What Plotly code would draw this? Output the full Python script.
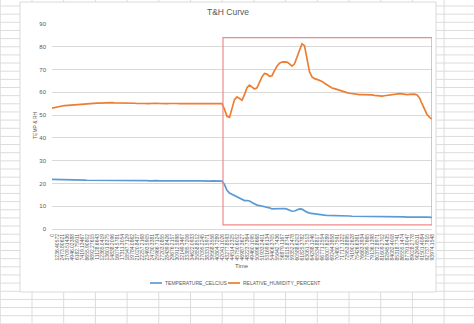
import plotly.graph_objects as go

# ---- data -------------------------------------------------------------
temperature_celcius = [
    21.8, 21.8, 21.7, 21.7, 21.7, 21.6, 21.6, 21.6, 21.6, 21.5,
    21.5, 21.5, 21.5, 21.5, 21.4, 21.4, 21.5, 21.4, 21.4, 21.4,
    21.3, 21.4, 21.3, 21.3, 21.4, 21.3, 21.3, 21.3, 21.2, 21.3,
    21.2, 21.3, 21.3, 21.2, 21.2, 21.3, 21.2, 21.2, 21.2, 21.1,
    21.2, 21.2, 21.2, 21.1, 21.2, 21.2, 21.1, 21.1, 21.2, 21.1,
    21.1, 21.1, 21.2, 21.1, 21.1, 21.1, 21.0, 21.1, 21.1, 21.1,
    21.0, 21.1, 21.1, 21.0, 21.1, 21.1, 21.0, 21.1,
    21.0, 19.5, 17.0, 15.8, 15.2, 14.8, 14.2, 13.5, 12.8, 12.5,
    12.5, 12.3, 11.6, 10.9, 10.5, 10.3, 10.1, 9.9, 9.7, 9.3,
    8.8, 8.8, 9.0, 9.1, 9.1, 9.0, 8.7, 8.2, 7.8, 7.9,
    8.4, 8.8, 8.7, 8.0, 7.4, 7.0, 6.8, 6.6, 6.4, 6.3,
    6.2, 6.1, 6.0, 6.0, 5.9, 5.9, 5.8, 5.8, 5.8, 5.7,
    5.7, 5.7, 5.6, 5.6, 5.6, 5.6, 5.5, 5.5, 5.5, 5.5,
    5.5, 5.5, 5.4, 5.4, 5.4, 5.4, 5.4, 5.4, 5.3, 5.4,
    5.3, 5.3, 5.3, 5.3, 5.2, 5.3, 5.3, 5.2, 5.2, 5.3,
    5.2, 5.2, 5.2, 5.1, 5.1,
]

relative_humidity_percent = [
    53.1, 53.4, 53.6, 53.8, 54.0, 54.2, 54.3, 54.5, 54.6, 54.7,
    54.8, 54.9, 55.0, 55.1, 55.1, 55.2, 55.2, 55.3, 55.3, 55.3,
    55.4, 55.4, 55.3, 55.4, 55.5, 55.4, 55.4, 55.3, 55.4, 55.5,
    55.4, 55.3, 55.2, 55.2, 55.1, 55.2, 55.2, 55.1, 55.0, 55.1,
    55.2, 55.3, 55.2, 55.1, 55.0, 54.9, 55.0, 55.1, 55.2, 55.2,
    55.1, 55.0, 55.0, 55.1, 55.0, 54.9, 55.0, 55.1, 55.1, 55.2,
    55.1, 55.1, 55.0, 55.1, 55.2, 55.2, 55.1, 55.2,
    55.0, 52.5, 49.5, 49.0, 53.5, 56.8, 58.0, 57.2, 56.5, 59.0,
    62.0, 63.2, 62.5, 61.5, 62.0, 64.5, 66.8, 68.3, 68.0, 67.0,
    67.3, 69.5, 71.5, 72.8, 73.3, 73.4, 73.3, 72.5, 71.5, 72.5,
    75.5, 79.0, 81.3, 80.5, 74.0, 69.0, 66.8, 66.0, 65.7, 65.4,
    64.8, 64.0, 63.2, 62.4, 61.9, 61.6, 61.2, 60.8, 60.5, 60.2,
    59.9, 59.6, 59.4, 59.2, 59.1, 59.0, 59.0, 59.0, 59.1, 59.0,
    58.9, 58.7, 58.5, 58.3, 58.3, 58.5, 58.7, 58.9, 59.0, 59.1,
    59.3, 59.4, 59.3, 59.1, 59.0, 59.1, 59.3, 59.2, 58.8, 57.5,
    55.0, 52.3, 50.3, 49.0, 48.3,
]

time_labels = [
    "0", "1236.40572", "2473.80621", "3709.51436", "4946.02388",
    "6182.75911", "7419.13467", "8655.90802", "9892.27615", "11128.6643",
    "12365.0419", "13601.8375", "14838.2096", "16074.5781", "17311.3054",
    "18547.7129", "19784.0862", "21020.8437", "22257.2168", "23493.5905",
    "24730.3381", "25966.7124", "27203.0855", "28439.8426", "29676.2157",
    "30912.5898", "32149.3467", "33385.7206", "34622.0933", "35858.8512",
    "37095.2245", "38331.5971", "39568.3556", "40804.7289", "42041.1026",
    "43277.8593", "44514.2325", "45750.6052", "46987.3627", "48223.7364",
    "49460.1095", "50696.8668", "51933.2401", "53169.6134", "54406.3705",
    "55642.7436", "56879.1167", "58115.8741", "59352.2478", "60588.6203",
    "61825.3782", "63061.7513", "64298.1246", "65534.8817", "66771.2554",
    "68007.6289", "69244.3858", "70480.7591", "71717.1322", "72953.8895",
    "74190.2628", "75426.6361", "76663.3934", "77899.7665", "79136.1398",
    "80372.8971", "81609.2702", "82845.6435", "84082.4008", "85318.7741",
    "86555.1474", "87791.9047", "89028.2778", "90264.6511", "91501.4084",
    "92737.7815", "93974.1548",
]

# highlighted interval (sample index where the change starts) and its value band
highlight_start = 68.4
highlight_low, highlight_high = 1.8, 84.0

# ---- geometry (pixels) ------------------------------------------------
W, H = 474, 324
PL, PR, PT, PB = 52, 432, 24, 229          # plot area edges
CHART = (20, 2, 436, 292)                  # chart area box

def px(xp):
    return (xp - PL) / (PR - PL)

def py(yp):
    return (PB - yp) / (PB - PT)

GRID = "#dcdcdc"
TEXT = "#595959"
BLUE = "#5b9bd5"
ORANGE = "#ed7d31"
FONT = "Liberation Sans"

n = len(relative_humidity_percent)
xs = list(range(n))

fig = go.Figure()
fig.add_trace(go.Scatter(x=xs, y=temperature_celcius, mode="lines",
                         name="TEMPERATURE_CELCIUS",
                         line=dict(color=BLUE, width=1.7)))
fig.add_trace(go.Scatter(x=xs, y=relative_humidity_percent, mode="lines",
                         name="RELATIVE_HUMIDITY_PERCENT",
                         line=dict(color=ORANGE, width=1.7)))

shapes = []
# worksheet cell grid behind the chart
y = 6.0
while y < H:
    shapes.append(dict(type="line", xref="paper", yref="paper", layer="below",
                       x0=px(0), x1=px(W), y0=py(y), y1=py(y),
                       line=dict(color=GRID, width=1)))
    y += 8.15
x = 0.3
while x < W:
    shapes.append(dict(type="line", xref="paper", yref="paper", layer="below",
                       x0=px(x), x1=px(x), y0=py(0), y1=py(H),
                       line=dict(color=GRID, width=1)))
    x += 31.7
# chart area
shapes.append(dict(type="rect", xref="paper", yref="paper", layer="below",
                   x0=px(CHART[0]), x1=px(CHART[2]),
                   y0=py(CHART[1]), y1=py(CHART[3]),
                   fillcolor="white", line=dict(color="#d9d9d9", width=1)))
# highlight box
shapes.append(dict(type="rect", xref="x", yref="y", layer="above",
                   x0=highlight_start, x1=n - 1,
                   y0=highlight_low, y1=highlight_high,
                   line=dict(color="#ef8a8a", width=1.2)))
# legend keys
shapes.append(dict(type="line", xref="paper", yref="paper",
                   x0=px(150), x1=px(162), y0=py(283), y1=py(283),
                   line=dict(color=BLUE, width=1.7)))
shapes.append(dict(type="line", xref="paper", yref="paper",
                   x0=px(228), x1=px(240), y0=py(283), y1=py(283),
                   line=dict(color=ORANGE, width=1.7)))


def label(text, xp, yp, size, xanchor="center", angle=0, color=TEXT):
    return dict(text=text, x=px(xp), y=py(yp), xref="paper", yref="paper",
                xanchor=xanchor, yanchor="middle", textangle=angle,
                showarrow=False,
                font=dict(size=size, color=color, family=FONT))


annotations = [
    label("T&amp;H Curve", 228, 12, 8.5),
    label("Time", 242, 266, 6),
    label("TEMP &amp; RH", 35, 125, 5, angle=-90),
    label("TEMPERATURE_CELCIUS", 163, 283, 5, xanchor="left"),
    label("RELATIVE_HUMIDITY_PERCENT", 241, 283, 5, xanchor="left"),
]

tick_positions = xs[::2][:len(time_labels)]

fig.update_layout(
    width=W, height=H,
    margin=dict(l=PL, r=W - PR, t=PT, b=H - PB, pad=0),
    paper_bgcolor="white", plot_bgcolor="rgba(0,0,0,0)",
    showlegend=False,
    shapes=shapes, annotations=annotations,
    font=dict(family=FONT, color=TEXT),
    xaxis=dict(range=[0, n - 1], tickmode="array", tickvals=tick_positions,
               ticktext=time_labels[:len(tick_positions)], tickangle=-90,
               tickfont=dict(size=5, color=TEXT, family=FONT),
               showgrid=False,
               showline=True, linecolor="#d9d9d9", linewidth=1,
               ticks="", zeroline=False, ticklabelstandoff=2),
    yaxis=dict(range=[0, 90], dtick=10, tickfont=dict(size=6, color=TEXT),
               showgrid=True, gridcolor="#d9d9d9", gridwidth=1,
               zeroline=False, showline=False, ticks="",
               ticklabelstandoff=5),
)

fig.write_html("out.html")
